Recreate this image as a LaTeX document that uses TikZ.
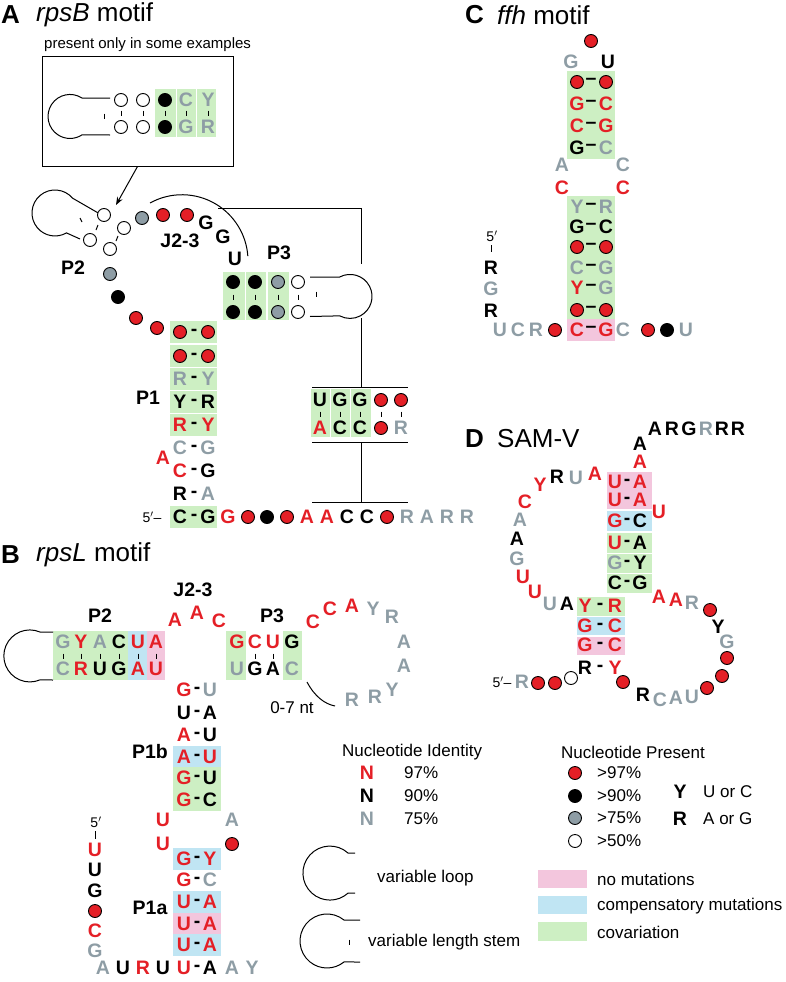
\documentclass[tikz,border=0pt]{standalone}
\usepackage{fontspec}
\setmainfont{Liberation Sans}
\usetikzlibrary{arrows.meta}
\definecolor{nr}{HTML}{E41F26}
\definecolor{ng}{HTML}{8E9DA5}
\definecolor{bgG}{HTML}{CDEFC3}
\definecolor{bgP}{HTML}{F3C6DD}
\definecolor{bgB}{HTML}{C0E5F3}
\newcommand\nt[4]{\node[nt,text=#3] at (#1,#2) {#4};}
\newcommand\cir[3]{\draw[line width=0.9pt,fill=#3] (#1,#2) circle[radius=6.5pt];}
\newcommand\tk[2]{\draw[line width=1pt] (#1,#2-2.5)--(#1,#2+2.5);}
\newcommand\bgc[5]{\fill[#5] (#1,#2) rectangle (#3,#4);}
\newcommand\rowbg[4]{\fill[#4] (#1,#3-10.7) rectangle (#2,#3+10.7);}
\begin{document}
\begin{tikzpicture}[x=1pt,y=-1pt,
  nt/.style={inner sep=0pt,font=\fontsize{19.5}{19.5}\selectfont\bfseries},
  lbl/.style={inner sep=0pt,font=\fontsize{19.5}{19.5}\selectfont\bfseries},
  ttl/.style={inner sep=0pt,anchor=west,font=\fontsize{26}{26}\selectfont},
  txt/.style={inner sep=0pt,anchor=west,font=\fontsize{17}{17}\selectfont},
  ln/.style={line width=1pt}]
\path[use as bounding box] (0,0) rectangle (785,982);

% ================= Panel A =================
\node[ttl,font=\fontsize{26}{26}\selectfont\bfseries] (tA) at (1,15) {A};
\node[ttl] (tA2) at (36,15) {\textit{rpsB} motif};
\node[txt,font=\fontsize{15}{15}\selectfont] (pres) at (44,45) {present only in some examples};
\node[draw,ln,minimum width=191pt,minimum height=109pt,inner sep=0pt] (inset) at (137.5,111.5) {};
\coordinate (p2tip) at (116,205);
\draw[ln,-{Stealth[length=8pt,width=6pt]}] (inset.south) -- (p2tip);
% inset
\bgc{155}{89}{175.5}{137}{bgG}\bgc{176.5}{89}{196}{137}{bgG}\bgc{197}{89}{216}{137}{bgG}
\draw[ln] (110,98) -- (82,98) arc[start angle=-57,end angle=-303,radius=22] -- (110,135);
\tk{104}{116}
\cir{121}{100}{white}\cir{143}{100}{white}\cir{165}{100}{black}
\cir{121}{127}{white}\cir{143}{127}{white}\cir{165}{127}{black}
\nt{186}{100}{ng}{C}\nt{208}{100}{ng}{Y}\nt{186}{127}{ng}{G}\nt{208}{127}{ng}{R}
\tk{121}{113}\tk{143}{113}\tk{165}{113}\tk{186}{113}\tk{208}{113}
% P2 loop
\draw[ln] (100,214) -- (72.6,198.2) arc[start angle=-40,end angle=-300,radius=23] -- (80,239);
\draw[ln] (80,218)--(82,222);
\cir{104}{215}{white}\cir{124}{228}{white}\cir{90}{240}{white}\cir{110}{249}{white}
\draw[ln] (98,225)--(96,230);\draw[ln] (118,236)--(116,241);
\node[lbl] (P2a) at (73,268) {P2};
\cir{110}{274}{ng}\cir{118}{297}{black}\cir{136}{318}{nr}\cir{157}{328}{nr}
\cir{142}{218}{ng}\cir{163}{215}{nr}\cir{187}{215}{nr}
\nt{206}{223}{black}{G}\nt{223}{237}{black}{G}
\node[lbl] (J23a) at (180,241) {J2-3};
\draw[ln] (150,203) arc[start angle=-119,end angle=-4,radius=66];
\draw[ln] (218,208) -- (361,208) -- (361,264);
\nt{235}{259}{black}{U}
\node[lbl] (P3a) at (279,253) {P3};
% P3 stem
\bgc{223}{272}{245}{320}{bgG}\bgc{246}{272}{266}{320}{bgG}\bgc{268}{272}{289}{320}{bgG}
\cir{233}{282}{black}\cir{255}{282}{black}\cir{278}{282}{ng}\cir{298}{282}{white}
\cir{233}{312}{black}\cir{255}{312}{black}\cir{278}{312}{ng}\cir{298}{312}{white}
\tk{233}{297}\tk{255}{297}\tk{278}{297}\tk{298}{297}\tk{316}{294}
\draw[ln] (310,277) -- (339.7,277) arc[start angle=-118,end angle=118,radius=22] -- (310,316.5);
\draw[ln] (361,318) -- (361,387);
\draw[ln] (312,387) -- (408,387);
\draw[ln] (312,442) -- (408,442);
\draw[ln] (361,442) -- (361,502);
\draw[ln] (312,502) -- (408,502);
\bgc{311}{389}{330}{437}{bgG}\bgc{331}{389}{350}{437}{bgG}\bgc{351}{389}{371}{437}{bgG}
\nt{320}{400}{black}{U}\nt{340}{400}{black}{G}\nt{360}{400}{black}{G}\cir{381}{400}{nr}\cir{401}{400}{nr}
\nt{320}{428}{nr}{A}\nt{340}{428}{black}{C}\nt{360}{428}{black}{C}\cir{381}{428}{nr}\nt{401}{428}{ng}{R}
\tk{320}{414}\tk{340}{414}\tk{360}{414}\tk{381}{414}\tk{401}{414}
% P1
\rowbg{170}{217}{332}{bgG}\rowbg{170}{217}{356}{bgG}\rowbg{170}{217}{379}{bgG}
\rowbg{170}{217}{402}{bgG}\rowbg{170}{217}{425}{bgG}\rowbg{170}{217}{517}{bgG}
\cir{180}{332}{nr}\nt{194}{332}{black}{-}\cir{208}{332}{nr}
\cir{180}{356}{nr}\nt{194}{356}{black}{-}\cir{208}{356}{nr}
\nt{180}{379}{ng}{R}\nt{194}{379}{black}{-}\nt{208}{379}{ng}{Y}
\nt{180}{402}{black}{Y}\nt{194}{402}{black}{-}\nt{208}{402}{black}{R}
\nt{180}{425}{nr}{R}\nt{194}{425}{black}{-}\nt{208}{425}{nr}{Y}
\nt{180}{448}{ng}{C}\nt{194}{448}{black}{-}\nt{208}{448}{ng}{G}
\nt{163}{458}{nr}{A}
\nt{180}{471}{nr}{C}\nt{194}{471}{black}{-}\nt{208}{471}{black}{G}
\nt{180}{494}{black}{R}\nt{194}{494}{black}{-}\nt{208}{494}{ng}{A}
\nt{180}{517}{black}{C}\nt{194}{517}{black}{-}\nt{208}{517}{black}{G}
\node[inner sep=0pt,font=\fontsize{14}{14}\selectfont] (f5a) at (152,517) {5$'$–};
\node[lbl] (P1a) at (148,398) {P1};
\nt{228}{517}{nr}{G}\cir{248}{517}{nr}\cir{267}{517}{black}\cir{287}{517}{nr}
\nt{307}{517}{nr}{A}\nt{327}{517}{nr}{A}\nt{347}{517}{black}{C}\nt{367}{517}{black}{C}
\cir{387}{517}{nr}\nt{407}{517}{ng}{R}\nt{427}{517}{ng}{A}\nt{447}{517}{ng}{R}\nt{467}{517}{ng}{R}

% ================= Panel B =================
\node[ttl,font=\fontsize{26}{26}\selectfont\bfseries] (tB) at (1,555) {B};
\node[ttl] (tB2) at (36,555) {\textit{rpsL} motif};
\node[lbl] (J23b) at (193,590) {J2-3};
\node[lbl] (P2b) at (100,616) {P2};
\node[lbl] (P3b) at (272,616) {P3};
\nt{175}{620}{nr}{A}\nt{197}{613}{nr}{A}\nt{219}{621}{nr}{C}
\bgc{53}{631}{127.5}{680}{bgG}\bgc{128}{631}{146.5}{680}{bgB}\bgc{147}{631}{165}{680}{bgP}
\draw[ln] (53,632) -- (40,632) arc[start angle=-67,end angle=-293,radius=26] -- (53,680);
\nt{63}{642}{ng}{G}\nt{81}{642}{nr}{Y}\nt{100}{642}{ng}{A}\nt{119}{642}{black}{C}\nt{138}{642}{nr}{U}\nt{156}{642}{nr}{A}
\nt{63}{669}{ng}{C}\nt{81}{669}{nr}{R}\nt{100}{669}{black}{U}\nt{119}{669}{black}{G}\nt{138}{669}{nr}{A}\nt{156}{669}{nr}{U}
\foreach \xx in {63,81,100,119,138,156,237,255,273,292} {\tk{\xx}{656}}
\bgc{226}{631}{246}{680}{bgG}\bgc{283}{631}{302}{680}{bgG}
\nt{237}{642}{nr}{G}\nt{255}{642}{nr}{C}\nt{273}{642}{nr}{U}\nt{292}{642}{black}{G}
\nt{237}{669}{ng}{U}\nt{255}{669}{black}{G}\nt{273}{669}{black}{A}\nt{292}{669}{ng}{C}
\nt{313}{622}{nr}{C}\nt{330}{609}{nr}{C}\nt{352}{606}{nr}{A}\nt{373}{609}{ng}{Y}
\nt{392}{617}{ng}{R}\nt{404}{642}{ng}{A}\nt{404}{666}{ng}{A}\nt{392}{690}{ng}{Y}
\nt{375}{697}{ng}{R}\nt{352}{700}{ng}{R}
\draw[ln] (307,682) .. controls (315,697) and (325,704) .. (335,706);
\node[txt,anchor=center] (nt07) at (292,708) {0-7 nt};
% P1b
\rowbg{173}{221}{757}{bgB}\rowbg{173}{221}{778}{bgG}\rowbg{173}{221}{800}{bgG}
\nt{184}{690}{nr}{G}\nt{197}{690}{black}{-}\nt{210}{690}{ng}{U}
\nt{184}{713}{black}{U}\nt{197}{713}{black}{-}\nt{210}{713}{black}{A}
\nt{184}{735}{nr}{A}\nt{197}{735}{black}{-}\nt{210}{735}{black}{U}
\nt{184}{757}{nr}{A}\nt{197}{757}{black}{-}\nt{210}{757}{nr}{U}
\nt{184}{778}{nr}{G}\nt{197}{778}{black}{-}\nt{210}{778}{black}{U}
\nt{184}{800}{nr}{G}\nt{197}{800}{black}{-}\nt{210}{800}{black}{C}
\node[lbl] (P1bb) at (150,752) {P1b};
\nt{163}{820}{nr}{U}\nt{163}{844}{nr}{U}\nt{232}{820}{ng}{A}\cir{232}{844}{nr}
% P1a
\rowbg{173}{221}{859}{bgB}\rowbg{173}{221}{902}{bgB}\rowbg{173}{221}{924}{bgP}\rowbg{173}{221}{945}{bgB}
\nt{184}{859}{nr}{G}\nt{197}{859}{black}{-}\nt{210}{859}{nr}{Y}
\nt{184}{880}{nr}{G}\nt{197}{880}{black}{-}\nt{210}{880}{ng}{C}
\nt{184}{902}{nr}{U}\nt{197}{902}{black}{-}\nt{210}{902}{nr}{A}
\nt{184}{924}{nr}{U}\nt{197}{924}{black}{-}\nt{210}{924}{nr}{A}
\nt{184}{945}{nr}{U}\nt{197}{945}{black}{-}\nt{210}{945}{nr}{A}
\node[lbl] (P1ab) at (150,908) {P1a};
\node[inner sep=0pt,font=\fontsize{14}{14}\selectfont] (f5b) at (96,822) {5$'$};
\draw[ln] (95,831)--(95,839);
\nt{95}{850}{nr}{U}\nt{95}{870}{black}{U}\nt{95}{891}{black}{G}\cir{95}{911}{nr}
\nt{95}{931}{nr}{C}\nt{95}{951}{ng}{G}
\nt{103}{968}{ng}{A}\nt{123}{968}{black}{U}\nt{143}{968}{nr}{R}\nt{163}{968}{black}{U}
\nt{184}{968}{nr}{U}\nt{197}{968}{black}{-}\nt{210}{968}{black}{A}\nt{232}{968}{ng}{A}\nt{252}{968}{ng}{Y}

% ================= Legend =================
\node[txt] (li) at (342,752) {Nucleotide Identity};
\nt{367}{773}{nr}{N}\nt{367}{796}{black}{N}\nt{367}{819}{ng}{N}
\node[txt] (l97) at (404,773) {97\%};\node[txt] (l90) at (404,796) {90\%};\node[txt] (l75) at (404,819) {75\%};
\node[txt] (lp) at (561,752) {Nucleotide Present};
\cir{575}{773}{nr}\cir{575}{796}{black}\cir{575}{818}{ng}\cir{575}{841}{white}
\node[txt] (g97) at (597,773) {>97\%};\node[txt] (g90) at (597,796) {>90\%};
\node[txt] (g75) at (597,818) {>75\%};\node[txt] (g50) at (597,841) {>50\%};
\nt{680}{792}{black}{Y}\nt{680}{819}{black}{R}
\node[txt] (uc) at (703,792) {U or C};\node[txt] (ag) at (703,819) {A or G};
\draw[ln] (355,853) -- (348,853) arc[start angle=-48,end angle=-312,radius=27] -- (355,893);
\node[txt] (vl) at (377,878) {variable loop};
\draw[ln] (360,920) -- (344,920) arc[start angle=-51,end angle=-309,radius=27] -- (360,962);
\tk{349}{942}
\node[txt] (vs) at (368,942) {variable length stem};
\bgc{538}{870}{587}{888}{bgP}\bgc{538}{896}{587}{914}{bgB}\bgc{538}{922}{587}{941}{bgG}
\node[txt] (nm) at (597,879) {no mutations};
\node[txt] (cm) at (597,906) {compensatory mutations};
\node[txt] (cv) at (597,932) {covariation};

% ================= Panel C =================
\node[ttl,font=\fontsize{26}{26}\selectfont\bfseries] (tC) at (465,15) {C};
\node[ttl] (tC2) at (497,15) {\textit{ffh} motif};
\cir{591}{41}{nr}\nt{571}{62}{ng}{G}\nt{608}{62}{black}{U}
\rowbg{567}{615}{82}{bgG}\rowbg{567}{615}{104}{bgG}\rowbg{567}{615}{126}{bgG}\rowbg{567}{615}{148}{bgG}
\cir{577}{82}{nr}\nt{591}{81}{black}{–}\cir{606}{82}{nr}
\nt{577}{104}{nr}{G}\nt{591}{103}{black}{–}\nt{606}{104}{nr}{C}
\nt{577}{126}{nr}{C}\nt{591}{125}{black}{–}\nt{606}{126}{nr}{G}
\nt{577}{148}{black}{G}\nt{591}{147}{black}{–}\nt{606}{148}{ng}{C}
\nt{562}{165}{ng}{A}\nt{623}{165}{ng}{C}\nt{562}{188}{nr}{C}\nt{623}{188}{nr}{C}
\foreach \yy in {207,227,247,268,288,310} {\rowbg{567}{615}{\yy}{bgG}}
\rowbg{567}{615}{330}{bgP}
\nt{577}{207}{ng}{Y}\nt{591}{206}{black}{–}\nt{606}{207}{ng}{R}
\nt{577}{227}{black}{G}\nt{591}{226}{black}{–}\nt{606}{227}{black}{C}
\cir{577}{247}{nr}\nt{591}{246}{black}{–}\cir{606}{247}{nr}
\nt{577}{268}{ng}{C}\nt{591}{267}{black}{–}\nt{606}{268}{ng}{G}
\nt{577}{288}{nr}{Y}\nt{591}{287}{black}{–}\nt{606}{288}{ng}{G}
\cir{577}{310}{nr}\nt{591}{309}{black}{–}\cir{606}{310}{nr}
\nt{577}{330}{nr}{C}\nt{591}{329}{black}{–}\nt{606}{330}{nr}{G}
\node[inner sep=0pt,font=\fontsize{14}{14}\selectfont] (f5c) at (492,236) {5$'$};
\draw[ln] (491,245)--(491,252);
\nt{491}{268}{black}{R}\nt{491}{289}{ng}{G}\nt{491}{311}{black}{R}
\nt{500}{330}{ng}{U}\nt{518}{330}{ng}{C}\nt{536}{330}{ng}{R}\cir{555}{330}{nr}
\nt{623}{330}{ng}{C}\cir{648}{330}{nr}\cir{667}{330}{black}\nt{686}{330}{ng}{U}

% ================= Panel D =================
\node[ttl,font=\fontsize{26}{26}\selectfont\bfseries] (tD) at (465,439) {D};
\node[ttl] (tD2) at (497,439) {SAM-V};
\nt{655}{429}{black}{A}\nt{672}{429}{black}{R}\nt{689}{429}{black}{G}\nt{706}{429}{ng}{R}\nt{722}{429}{black}{R}\nt{738}{429}{black}{R}
\nt{640}{444}{black}{A}\nt{640}{462}{nr}{A}
\fill[bgP] (607,472) rectangle (652,508.5);
\fill[bgB] (607,510.5) rectangle (652,531);
\fill[bgG] (607,533) rectangle (652,552.5);
\fill[bgG] (607,554) rectangle (652,572.5);
\fill[bgG] (607,574) rectangle (652,593);
\nt{615}{482}{nr}{U}\nt{627}{482}{black}{-}\nt{640}{482}{nr}{A}
\nt{615}{500}{nr}{U}\nt{627}{500}{black}{-}\nt{640}{500}{nr}{A}
\nt{615}{521}{nr}{G}\nt{627}{521}{black}{-}\nt{640}{521}{black}{C}
\nt{615}{543}{nr}{U}\nt{627}{543}{black}{-}\nt{640}{543}{black}{A}
\nt{615}{563}{ng}{G}\nt{627}{563}{black}{-}\nt{640}{563}{black}{Y}
\nt{615}{583}{black}{C}\nt{627}{583}{black}{-}\nt{640}{583}{black}{G}
\nt{659}{512}{nr}{U}
\nt{595}{474}{nr}{A}\nt{576}{478}{ng}{U}\nt{557}{477}{black}{R}\nt{540}{485}{nr}{Y}
\nt{525}{502}{nr}{C}\nt{520}{520}{ng}{A}\nt{517}{539}{black}{A}\nt{517}{559}{ng}{G}
\nt{523}{577}{nr}{U}\nt{535}{592}{nr}{U}\nt{550}{604}{ng}{U}\nt{567}{604}{black}{A}
\fill[bgG] (577,597) rectangle (625,616);
\fill[bgB] (577,617) rectangle (625,635);
\fill[bgP] (577,636.5) rectangle (625,655);
\nt{585}{606}{nr}{Y}\nt{600}{606}{black}{-}\nt{615}{606}{nr}{R}
\nt{585}{626}{nr}{G}\nt{600}{626}{black}{-}\nt{615}{626}{nr}{C}
\nt{585}{645}{nr}{G}\nt{600}{645}{black}{-}\nt{615}{645}{nr}{C}
\nt{585}{668}{black}{R}\nt{600}{668}{black}{-}\nt{615}{668}{nr}{Y}
\nt{659}{597}{nr}{A}\nt{676}{600}{nr}{A}\nt{692}{603}{ng}{R}\cir{710}{610}{nr}
\nt{718}{627}{black}{Y}\nt{727}{642}{ng}{G}\cir{727}{658}{nr}\cir{722}{676}{nr}\cir{707}{688}{nr}
\nt{692}{697}{ng}{U}\nt{676}{698}{ng}{A}\nt{660}{700}{ng}{C}\nt{643}{695}{black}{R}
\cir{623}{682}{nr}
\node[inner sep=0pt,font=\fontsize{14}{14}\selectfont] (f5d) at (502,682) {5$'$–};
\nt{522}{682}{ng}{R}\cir{538}{683}{nr}\cir{555}{683}{nr}\cir{571}{678}{white}
\end{tikzpicture}
\end{document}
